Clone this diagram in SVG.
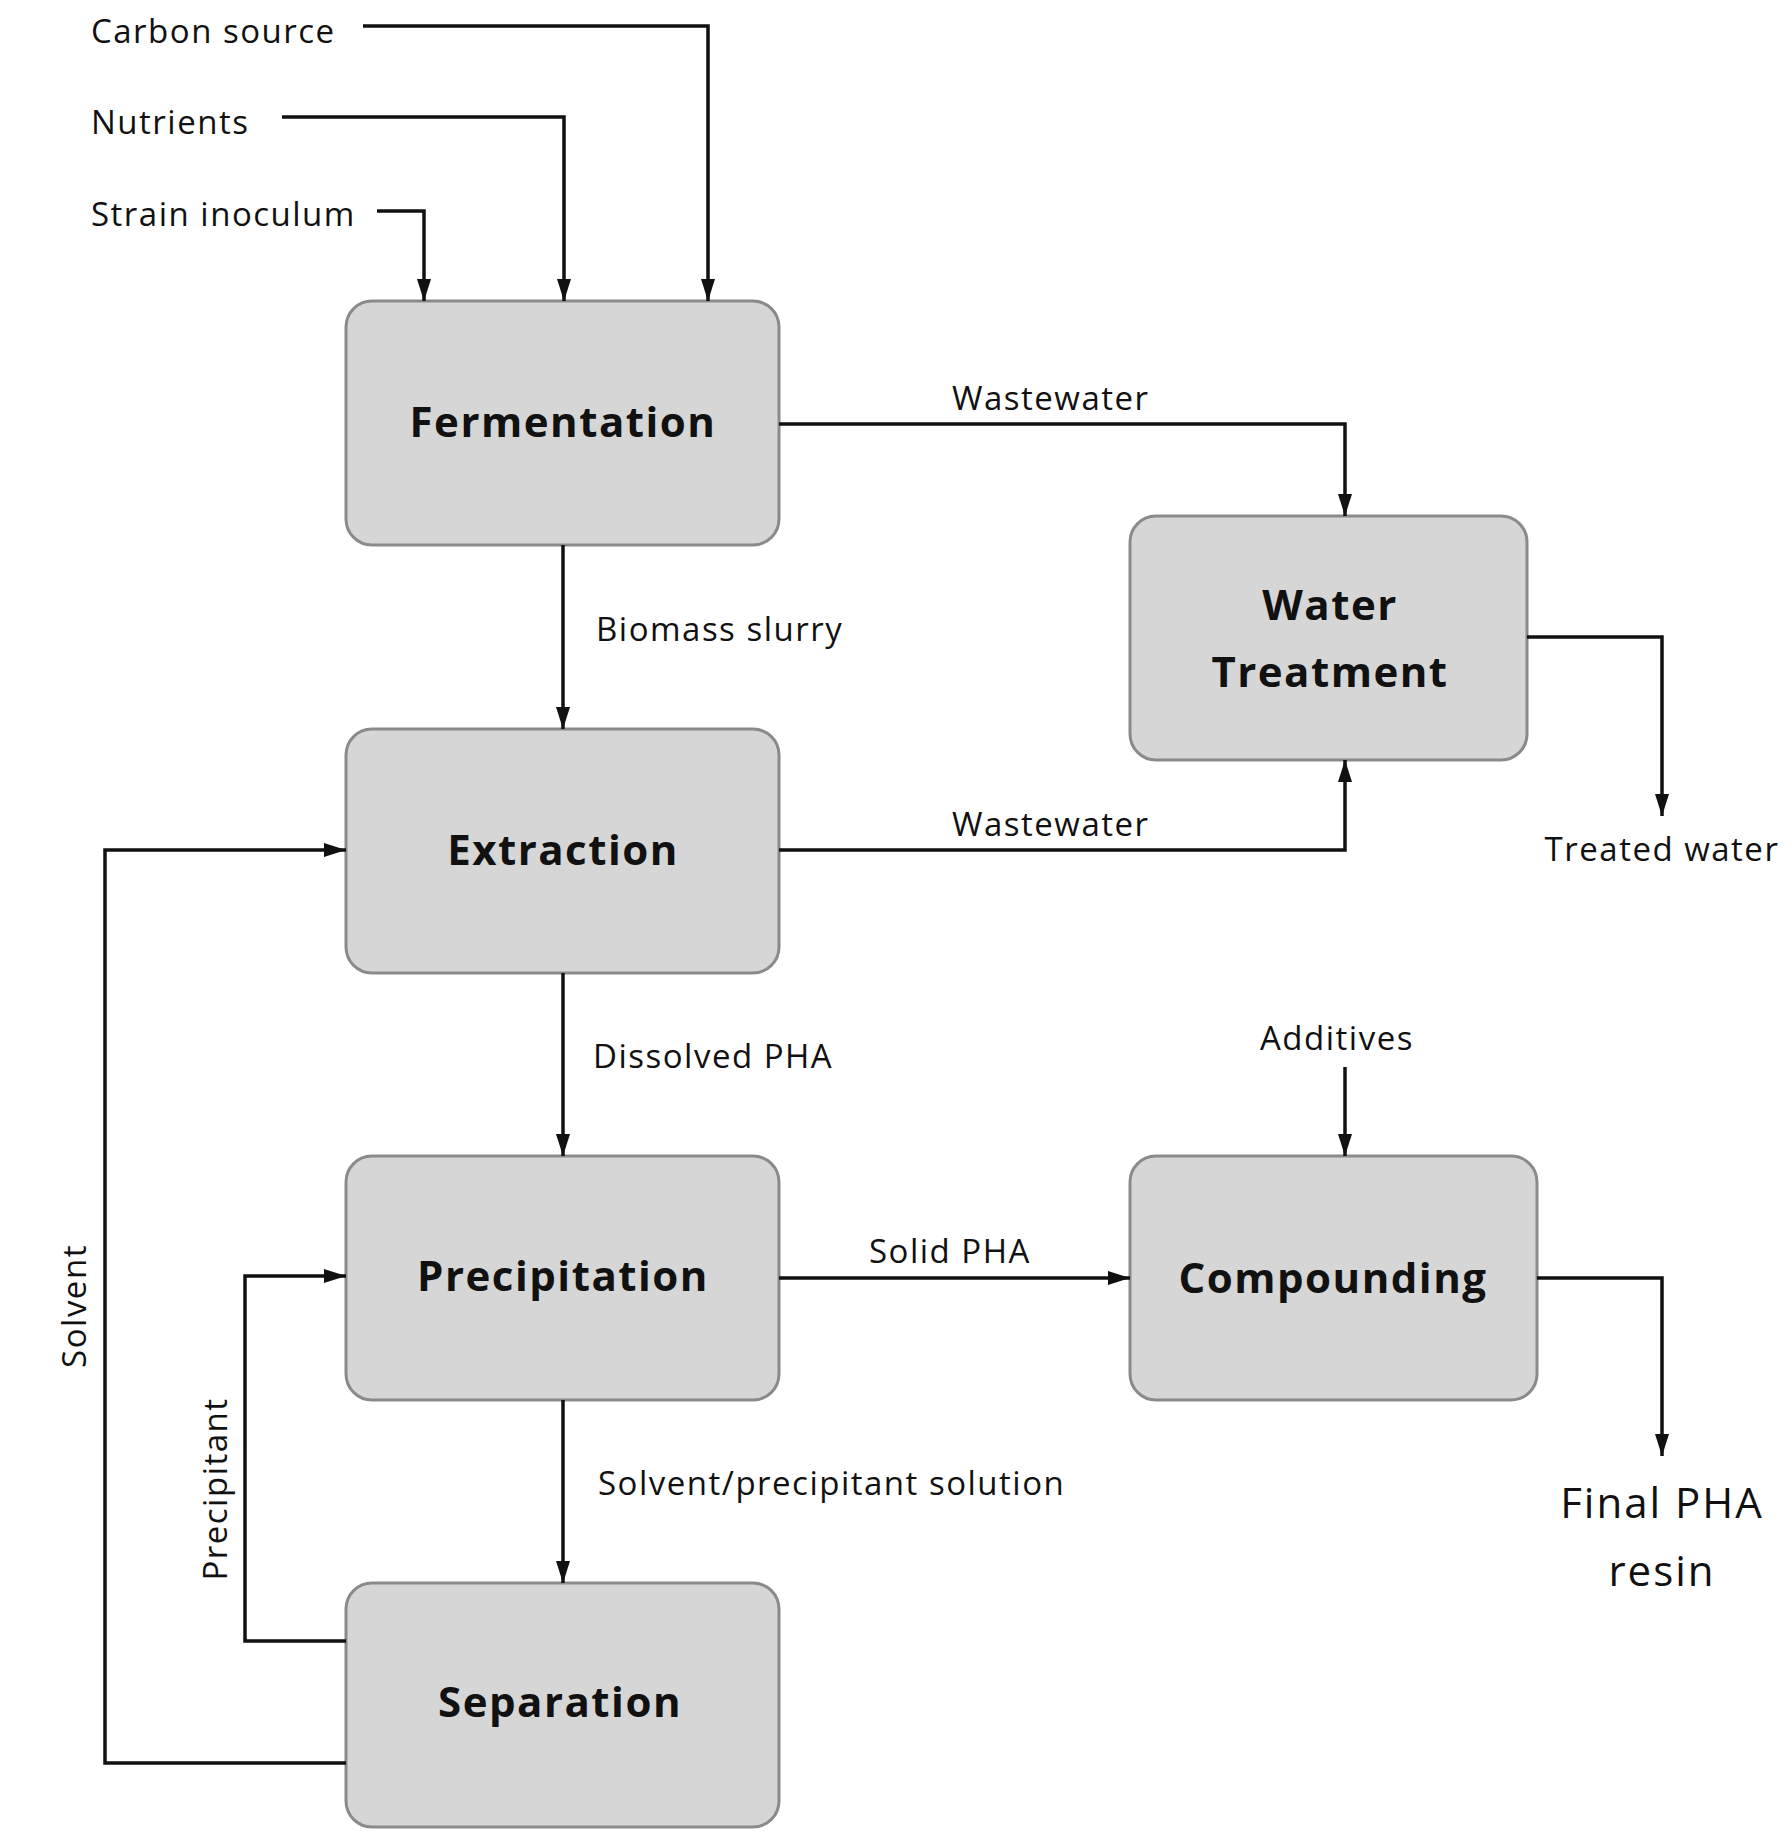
<svg xmlns="http://www.w3.org/2000/svg" width="1790" height="1840" viewBox="0 0 1790 1840">
<style>
.b{fill:#d6d6d6;stroke:#8a8a8a;stroke-width:3}
.t{font-family:"Open Sans","Liberation Sans",sans-serif;font-size:42px;font-weight:bold;fill:#111;text-anchor:middle;letter-spacing:1.5px}
.l{font-family:"Open Sans","Liberation Sans",sans-serif;font-size:33px;fill:#111;letter-spacing:1.5px}
.c{fill:none;stroke:#111;stroke-width:3.5}
</style>
<defs><marker id="A" markerWidth="24" markerHeight="28" refX="22" refY="7" orient="auto" markerUnits="userSpaceOnUse"><path d="M0,0L22,7L0,14z" fill="#111"/></marker></defs>
<rect width="1790" height="1840" fill="#fff"/>
<g id="fermentation"><rect class="b" x="346" y="301" width="433" height="244" rx="26"/><text class="t" x="563" y="437">Fermentation</text></g>
<g id="extraction"><rect class="b" x="346" y="729" width="433" height="244" rx="26"/><text class="t" x="563" y="865">Extraction</text></g>
<g id="precipitation"><rect class="b" x="346" y="1156" width="433" height="244" rx="26"/><text class="t" x="563" y="1291">Precipitation</text></g>
<g id="separation"><rect class="b" x="346" y="1583" width="433" height="244" rx="26"/><text class="t" x="560" y="1717">Separation</text></g>
<g id="water"><rect class="b" x="1130" y="516" width="397" height="244" rx="26"/><text class="t" x="1330" y="620">Water</text><text class="t" x="1330" y="687">Treatment</text></g>
<g id="compounding"><rect class="b" x="1130" y="1156" width="407" height="244" rx="26"/><text class="t" x="1333" y="1293">Compounding</text></g>
<g id="connectors">
<path class="c" marker-end="url(#A)" d="M363,26H708V301"/>
<path class="c" marker-end="url(#A)" d="M282,117H564V301"/>
<path class="c" marker-end="url(#A)" d="M377,211H424V301"/>
<path class="c" marker-end="url(#A)" d="M779,424H1345V516"/>
<path class="c" marker-end="url(#A)" d="M563,545V729"/>
<path class="c" marker-end="url(#A)" d="M779,850H1345V760"/>
<path class="c" marker-end="url(#A)" d="M1527,637H1662V816"/>
<path class="c" marker-end="url(#A)" d="M563,973V1156"/>
<path class="c" marker-end="url(#A)" d="M563,1400V1583"/>
<path class="c" marker-end="url(#A)" d="M779,1278H1130"/>
<path class="c" marker-end="url(#A)" d="M1345,1067V1156"/>
<path class="c" marker-end="url(#A)" d="M1537,1278H1662V1456"/>
<path class="c" marker-end="url(#A)" d="M346,1763H105V850H346"/>
<path class="c" marker-end="url(#A)" d="M346,1641H245V1276H346"/>
</g>
<g id="labels">
<text class="l" x="91" y="43">Carbon source</text>
<text class="l" x="91" y="134">Nutrients</text>
<text class="l" x="91" y="226">Strain inoculum</text>
<text class="l" x="952" y="410">Wastewater</text>
<text class="l" x="952" y="836">Wastewater</text>
<text class="l" x="596" y="641">Biomass slurry</text>
<text class="l" x="593" y="1068">Dissolved PHA</text>
<text class="l" x="869" y="1263">Solid PHA</text>
<text class="l" x="1260" y="1050">Additives</text>
<text class="l" x="598" y="1495">Solvent/precipitant solution</text>
<text class="l" x="1662" y="861" text-anchor="middle">Treated water</text>
<text class="l" x="1662" y="1518" text-anchor="middle" style="font-size:42px;letter-spacing:2px">Final PHA</text>
<text class="l" x="1662" y="1586" text-anchor="middle" style="font-size:42px;letter-spacing:2px">resin</text>
<text class="l" transform="translate(86,1306) rotate(-90)" text-anchor="middle">Solvent</text>
<text class="l" transform="translate(227,1489) rotate(-90)" text-anchor="middle">Precipitant</text>
</g>
</svg>
